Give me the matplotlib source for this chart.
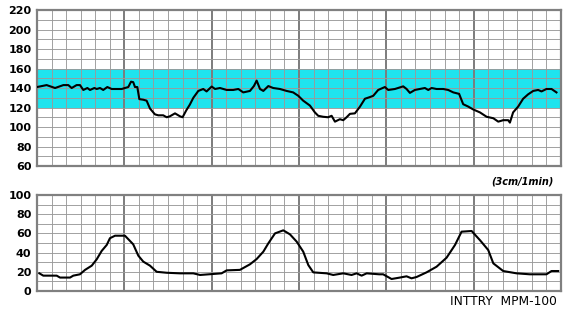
import numpy as np
import matplotlib
matplotlib.use("Agg")
import matplotlib.pyplot as plt

# fetal heart rate trace (x in small grid boxes, 0..36)
fhr_x = [0, 0.66, 1.24, 1.81, 2.15, 2.38, 2.72, 2.95, 3.18, 3.46, 3.64, 3.94, 4.1, 4.33,
         4.55, 4.83, 5.13, 5.47, 5.82, 6.04, 6.27, 6.46, 6.61, 6.73, 6.89, 7.03, 7.3, 7.53,
         7.76, 8.1, 8.33, 8.67, 8.91, 9.13, 9.48, 9.82, 10.0, 10.25, 10.5, 10.74, 11.08,
         11.42, 11.65, 12.0, 12.23, 12.57, 13.03, 13.48, 13.83, 14.17, 14.63, 14.9, 15.09,
         15.32, 15.55, 15.89, 16.23, 16.69, 17.15, 17.6, 17.95, 18.29, 18.75, 19.09, 19.32,
         19.66, 20.0, 20.24, 20.47, 20.81, 21.04, 21.27, 21.5, 21.84, 22.18, 22.53, 22.87,
         23.1, 23.44, 23.9, 24.13, 24.59, 25.16, 25.39, 25.62, 25.96, 26.3, 26.65, 26.88,
         27.11, 27.45, 27.91, 28.25, 28.6, 29.0, 29.28, 29.62, 29.97, 30.43, 30.89, 31.35,
         31.69, 32.03, 32.37, 32.49, 32.71, 33.06, 33.4, 33.74, 34.09, 34.43, 34.66, 35.0,
         35.35, 35.69]
fhr_y = [141, 143, 140, 143, 143, 140, 143, 143, 138, 140, 138, 140, 139, 140,
         138, 141, 139, 139, 139, 140, 141, 146.5, 146, 141, 141, 128.6, 128, 127,
         119, 113, 112, 112, 110, 111, 114, 111, 110, 117, 123, 130, 137,
         139, 136.5, 141.5, 139, 140, 138, 138, 139, 135.5, 137, 142, 147.6,
         139, 137, 142, 140, 139, 137, 135.5, 132, 127, 122, 115, 111.5,
         110.5, 110, 111.5, 105.5, 108, 107, 110, 113.5, 114, 120.7, 129, 130.7,
         132, 138, 141, 138, 139, 141.7, 139, 135, 138, 139, 140, 138,
         140, 139, 139, 138, 135.5, 134, 123.4, 121, 118, 115, 110.5, 109,
         105.5, 107, 107, 104.5, 115, 121, 129, 133.5, 137, 138, 136.5, 139,
         139, 135.5]

# uterine contraction trace
uc_x = [0.16, 0.43, 1.35, 1.58, 2.27, 2.49, 2.95, 3.3, 3.76, 4.1, 4.44, 4.79, 5.01, 5.36,
        6.04, 6.27, 6.61, 6.96, 7.3, 7.76, 8.22, 8.91, 9.82, 10.74, 11.2, 12.68, 13.03,
        13.94, 14.63, 15.09, 15.55, 15.89, 16.35, 16.92, 17.38, 17.84, 18.29, 18.64, 18.98,
        19.9, 20.35, 21.04, 21.61, 21.96, 22.3, 22.65, 23.51, 23.78, 24.36, 24.93, 25.39,
        25.73, 26.08, 26.76, 27.45, 28.14, 28.72, 29.17, 29.86, 30.43, 31.0, 31.35, 32.03,
        32.95, 33.86, 35.0, 35.35, 35.81]
uc_y = [18.4, 16, 16, 14, 14, 16, 17.4, 22, 26.4, 33, 41.7, 48, 55, 57.6,
        57.6, 54, 48.6, 36.8, 30.6, 26.4, 20, 19, 18.4, 18.4, 16.7, 18.4, 21.5,
        22, 27.8, 33.3, 41, 49.6, 60, 63.2, 59, 51.4, 41, 27, 19.4,
        18.4, 16.7, 18.4, 16.7, 18.4, 16, 18.4, 17.4, 17.4, 12.5, 14, 15.3,
        13.2, 14.6, 19.4, 25.3, 34.7, 48, 61.8, 62.5, 53, 42.7, 28.8, 20.8,
        18.4, 17.4, 17.4, 20.8, 20.8]

fhr_ticks = [60, 80, 100, 120, 140, 160, 180, 200, 220]
uc_ticks = [0, 20, 40, 60, 80, 100]
normal_band = (120, 160)

GRID = "#9a9a9a"
CYAN = "#1ee4ee"

fig = plt.figure(figsize=(5.67, 3.11), dpi=100)
ax_fhr = fig.add_axes([0.0653, 0.4662, 0.9241, 0.5016])
ax_uc = fig.add_axes([0.0653, 0.0643, 0.9241, 0.3087])


def paper_grid(ax, ylo, yhi, ticks):
    ax.set_xlim(0, 36)
    ax.set_ylim(ylo, yhi)
    ax.set_xticks(np.arange(0, 37, 6))
    ax.set_xticks(np.arange(0, 37, 1), minor=True)
    ax.set_yticks(ticks)
    ax.set_yticks(np.arange(ylo, yhi + 1, 10), minor=True)
    ax.grid(which="minor", color=GRID, lw=0.65)
    ax.grid(which="major", axis="x", color="#7c7c7c", lw=1.4)
    ax.grid(which="major", axis="y", color=GRID, lw=0.65)
    ax.tick_params(which="both", length=0)
    ax.tick_params(axis="y", pad=4, labelsize=8)
    ax.set_xticklabels([])
    for lab in ax.get_yticklabels():
        lab.set_fontweight("bold")
    for sp in ax.spines.values():
        sp.set_color("#808080")
        sp.set_linewidth(1.6)


paper_grid(ax_fhr, 60, 220, fhr_ticks)
ax_fhr.axhspan(*normal_band, color=CYAN, lw=0, zorder=1)
ax_fhr.plot(fhr_x, fhr_y, color="black", lw=1.5, zorder=3)

paper_grid(ax_uc, 0, 100, uc_ticks)
ax_uc.plot(uc_x, uc_y, color="black", lw=1.5, zorder=3)

fig.text(0.977, 0.418, "(3cm/1min)", ha="right", va="center", fontsize=7,
         fontweight="bold", fontstyle="italic")
fig.text(0.982, 0.032, "INTTRY  MPM-100", ha="right", va="center", fontsize=8.8)

fig.savefig("out.png", dpi=100)
